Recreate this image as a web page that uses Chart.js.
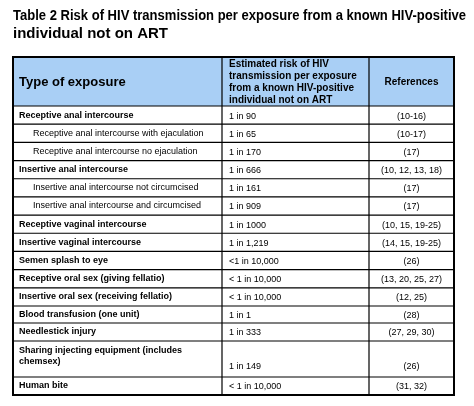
<!DOCTYPE html>
<html>
<head>
<meta charset="utf-8">
<script src="https://cdn.jsdelivr.net/npm/chart.js@4"></script>
<style>
  html, body { margin: 0; background: #fff; }
  #wrap { width: 474px; height: 406px; }
</style>
</head>
<body>
<div id="wrap"><canvas id="myChart"></canvas></div>
<script>
const title = ["Table 2 Risk of HIV transmission per exposure from a known HIV-positive", "individual not on ART"];
const headers = ["Type of exposure", ["Estimated risk of HIV", "transmission per exposure", "from a known HIV-positive", "individual not on ART"], "References"];
const exposures = [
  "Receptive anal intercourse",
  "Receptive anal intercourse with ejaculation",
  "Receptive anal intercourse no ejaculation",
  "Insertive anal intercourse",
  "Insertive anal intercourse not circumcised",
  "Insertive anal intercourse and circumcised",
  "Receptive vaginal intercourse",
  "Insertive vaginal intercourse",
  "Semen splash to eye",
  "Receptive oral sex (giving fellatio)",
  "Insertive oral sex (receiving fellatio)",
  "Blood transfusion (one unit)",
  "Needlestick injury",
  "Sharing injecting equipment (includes|chemsex)",
  "Human bite"
];
const subRow = [false, true, true, false, true, true, false, false, false, false, false, false, false, false, false];
const risks = ["1 in 90", "1 in 65", "1 in 170", "1 in 666", "1 in 161", "1 in 909", "1 in 1000", "1 in 1,219",
  "<1 in 10,000", "< 1 in 10,000", "< 1 in 10,000", "1 in 1", "1 in 333", "1 in 149", "< 1 in 10,000"];
const references = ["(10-16)", "(10-17)", "(17)", "(10, 12, 13, 18)", "(17)", "(17)", "(10, 15, 19-25)", "(14, 15, 19-25)",
  "(26)", "(13, 20, 25, 27)", "(12, 25)", "(28)", "(27, 29, 30)", "(26)", "(31, 32)"];

// layout (table coordinates)
const colEdges = [13, 222, 369, 454];
const headerBottom = 106;
const rowEdges = [106];
for (let i = 1; i <= 11; i++) rowEdges.push(106 + i * 200 / 11);
rowEdges.push(323, 341, 377, 395);

const tablePlugin = {
  id: "tablePlugin",
  afterDraw(chart) {
    const ctx = chart.ctx;
    const xs = chart.scales.x, ys = chart.scales.y;
    const X = v => xs.getPixelForValue(v), Y = v => ys.getPixelForValue(v);
    ctx.save();
    ctx.fillStyle = "#000";
    ctx.font = "bold 15px Arial, 'Liberation Sans'";
    ctx.textBaseline = "alphabetic";
    ctx.fillText(title[0], 13, 20, 453);
    ctx.fillText(title[1], 13, 38);

    // header
    ctx.fillStyle = "#a9cff5";
    ctx.fillRect(X(colEdges[0]), Y(57), X(colEdges[3]) - X(colEdges[0]), Y(headerBottom) - Y(57));
    ctx.fillStyle = "#000";
    ctx.textBaseline = "middle";
    ctx.font = "bold 13px Arial, 'Liberation Sans'";
    ctx.fillText(headers[0], X(19), Y(82));
    ctx.font = "bold 10px Arial, 'Liberation Sans'";
    headers[1].forEach((t, i) => ctx.fillText(t, X(229), Y(64 + i * 12), 134));
    ctx.textAlign = "center";
    ctx.fillText(headers[2], X(411.5), Y(82));

    // rows
    exposures.forEach((lab, i) => {
      const top = rowEdges[i], bot = rowEdges[i + 1];
      const mid = (top + bot) / 2;
      ctx.textAlign = "left";
      ctx.font = (subRow[i] ? "" : "bold ") + "9px Arial, 'Liberation Sans'";
      const parts = lab.split("|");
      if (parts.length > 1) {
        parts.forEach((p, k) => ctx.fillText(p, X(19), Y(top + 10 + k * 11)));
      } else {
        ctx.fillText(lab, X(subRow[i] ? 33 : 19), Y(mid));
      }
      const vy = parts.length > 1 ? bot - 10 : mid + 1;
      ctx.font = "9px Arial, 'Liberation Sans'";
      ctx.fillText(risks[i], X(229), Y(vy));
      ctx.textAlign = "center";
      ctx.fillText(references[i], X(411.5), Y(vy));
    });

    // grid
    ctx.strokeStyle = "#000";
    ctx.lineWidth = 1.2;
    ctx.beginPath();
    [57, headerBottom].concat(rowEdges.slice(1)).forEach(y => {
      ctx.moveTo(X(colEdges[0]), Y(y)); ctx.lineTo(X(colEdges[3]), Y(y));
    });
    colEdges.forEach(x => { ctx.moveTo(X(x), Y(57)); ctx.lineTo(X(x), Y(395)); });
    ctx.stroke();
    ctx.lineWidth = 2;
    ctx.strokeRect(X(colEdges[0]), Y(57), X(colEdges[3]) - X(colEdges[0]), Y(395) - Y(57));
    ctx.restore();
  }
};

new Chart(document.getElementById("myChart"), {
  type: "scatter",
  data: { datasets: [{ data: [] }] },
  options: {
    responsive: true,
    maintainAspectRatio: false,
    animation: false,
    layout: { padding: { left: 13, right: 20, top: 57, bottom: 11 } },
    plugins: { legend: { display: false }, tooltip: { enabled: false } },
    scales: {
      x: { type: "linear", min: 13, max: 454, display: false },
      y: { type: "linear", min: 57, max: 395, reverse: true, display: false }
    }
  },
  plugins: [tablePlugin]
});
</script>
</body>
</html>
